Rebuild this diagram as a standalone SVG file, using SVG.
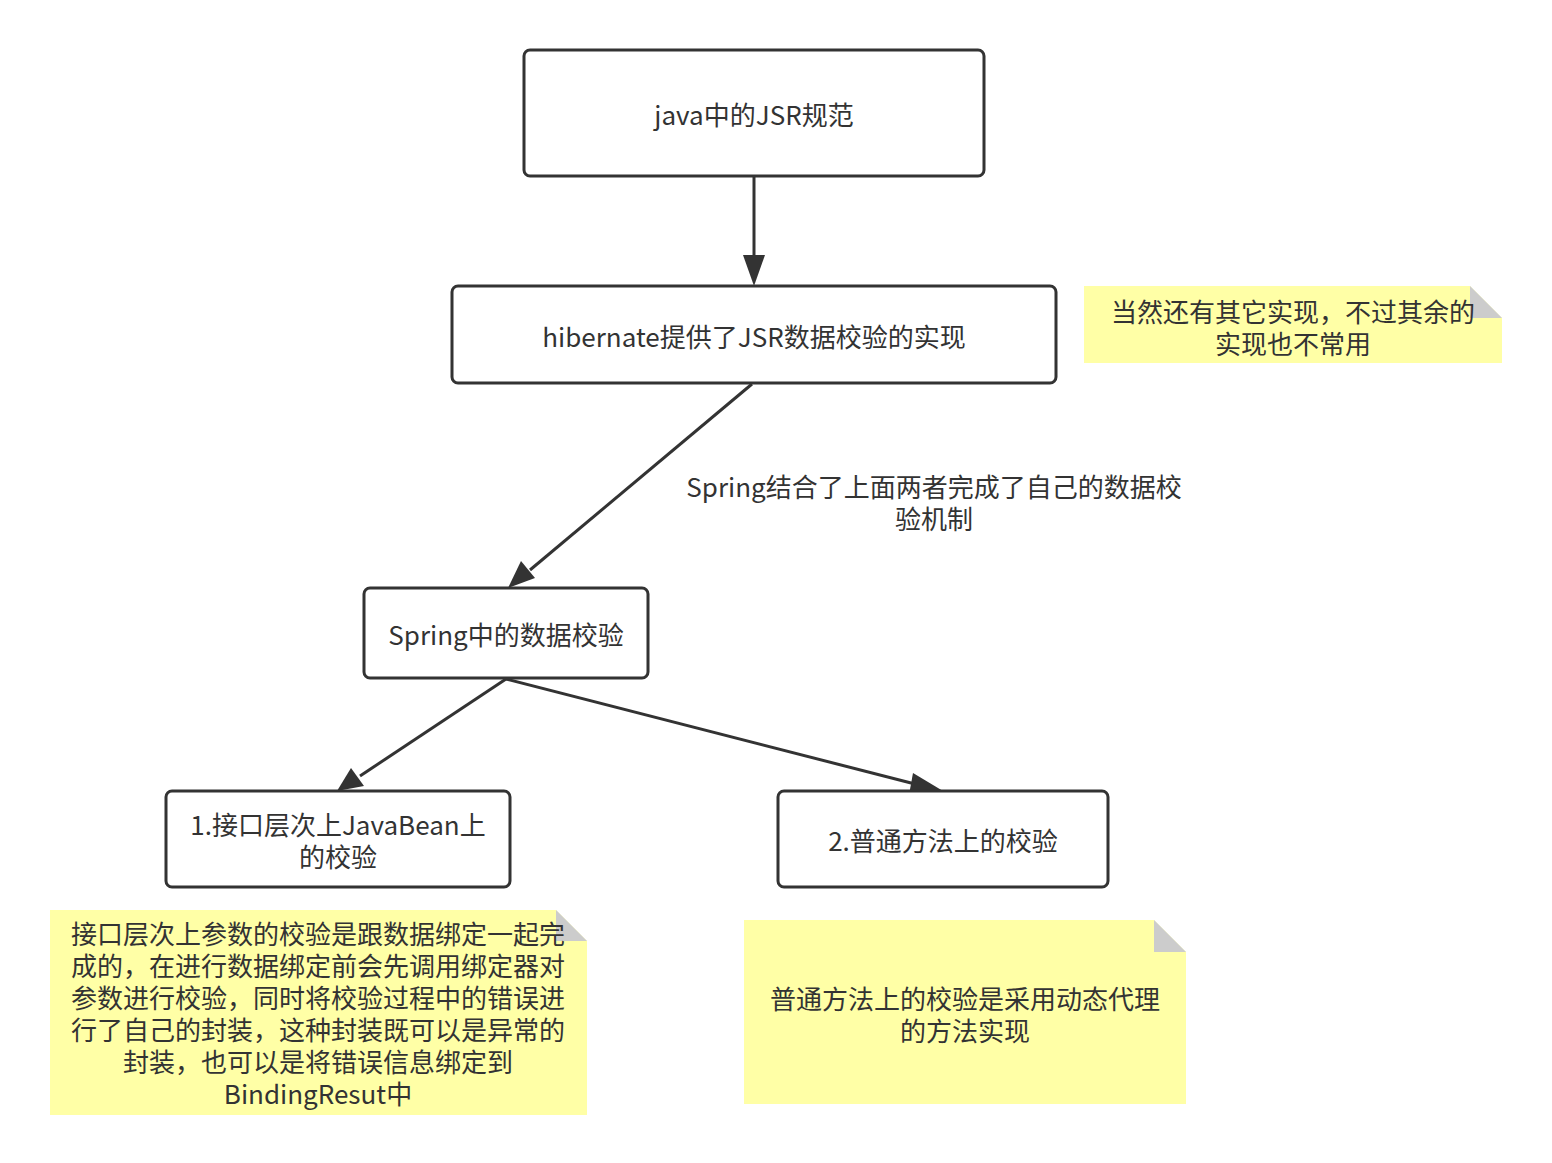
<svg xmlns="http://www.w3.org/2000/svg" width="1552" height="1163" viewBox="0 0 1552 1163">
<defs>
<style>
.box{fill:#fff;stroke:#333;stroke-width:3}
.note{fill:#ffffa6}
.fold{fill:#cccccc}
.t{font-family:"Noto Sans CJK SC","Noto Sans",sans-serif;font-size:26px;fill:#333;text-anchor:middle}
.edge{stroke:#333;stroke-width:3;fill:none}
</style>
<marker id="arr" viewBox="0 0 10 10" refX="9" refY="5" markerWidth="10" markerHeight="10" markerUnits="userSpaceOnUse" orient="auto">
<path d="M0,0 L10,5 L0,10 Z" fill="#333"/>
</marker>
</defs>
<rect width="1552" height="1163" fill="#fff"/>
<g id="connectors">
<path class="edge" d="M754,177 L754,258"/>
<path d="M743,255 L754,286 L765,255 Z" fill="#333"/>
<path class="edge" d="M752,384 L530,570"/>
<path d="M521,561 L508,588 L535,578 Z" fill="#333"/>
<path class="edge" d="M506,679 L360,776"/>
<path d="M351,768 L337,791 L364,786 Z" fill="#333"/>
<path class="edge" d="M506,679 L915,784"/>
<path d="M913,773 L943,791 L909,795 Z" fill="#333"/>
<text class="t" x="934" y="497">Spring结合了上面两者完成了自己的数据校</text>
<text class="t" x="934" y="529">验机制</text>
</g>
<g id="n1">
<rect class="box" x="524" y="50" width="460" height="126" rx="6"/>
<text class="t" x="754" y="125">java中的JSR规范</text>
</g>
<g id="n2">
<rect class="box" x="452" y="286" width="604" height="97" rx="6"/>
<text class="t" x="754" y="347">hibernate提供了JSR数据校验的实现</text>
</g>
<g id="n3">
<rect class="box" x="364" y="588" width="284" height="90" rx="6"/>
<text class="t" x="506" y="645">Spring中的数据校验</text>
</g>
<g id="n4">
<rect class="box" x="166" y="791" width="344" height="96" rx="6"/>
<text class="t" x="338" y="835">1.接口层次上JavaBean上</text>
<text class="t" x="338" y="867">的校验</text>
</g>
<g id="n5">
<rect class="box" x="778" y="791" width="330" height="96" rx="6"/>
<text class="t" x="943" y="851">2.普通方法上的校验</text>
</g>
<g id="note1">
<path class="note" d="M50,910 L556,910 L587,941 L587,1115 L50,1115 Z"/>
<path class="fold" d="M556,910 L587,941 L556,941 Z"/>
<text class="t" x="318" y="944">接口层次上参数的校验是跟数据绑定一起完</text>
<text class="t" x="318" y="976">成的，在进行数据绑定前会先调用绑定器对</text>
<text class="t" x="318" y="1008">参数进行校验，同时将校验过程中的错误进</text>
<text class="t" x="318" y="1040">行了自己的封装，这种封装既可以是异常的</text>
<text class="t" x="318" y="1072">封装，也可以是将错误信息绑定到</text>
<text class="t" x="318" y="1104">BindingResut中</text>
</g>
<g id="note2">
<path class="note" d="M1084,286 L1470,286 L1502,318 L1502,363 L1084,363 Z"/>
<path class="fold" d="M1470,286 L1502,318 L1470,318 Z"/>
<text class="t" x="1293" y="322">当然还有其它实现，不过其余的</text>
<text class="t" x="1293" y="354">实现也不常用</text>
</g>
<g id="note3">
<path class="note" d="M744,920 L1154,920 L1186,952 L1186,1104 L744,1104 Z"/>
<path class="fold" d="M1154,920 L1186,952 L1154,952 Z"/>
<text class="t" x="965" y="1009">普通方法上的校验是采用动态代理</text>
<text class="t" x="965" y="1041">的方法实现</text>
</g>
</svg>
